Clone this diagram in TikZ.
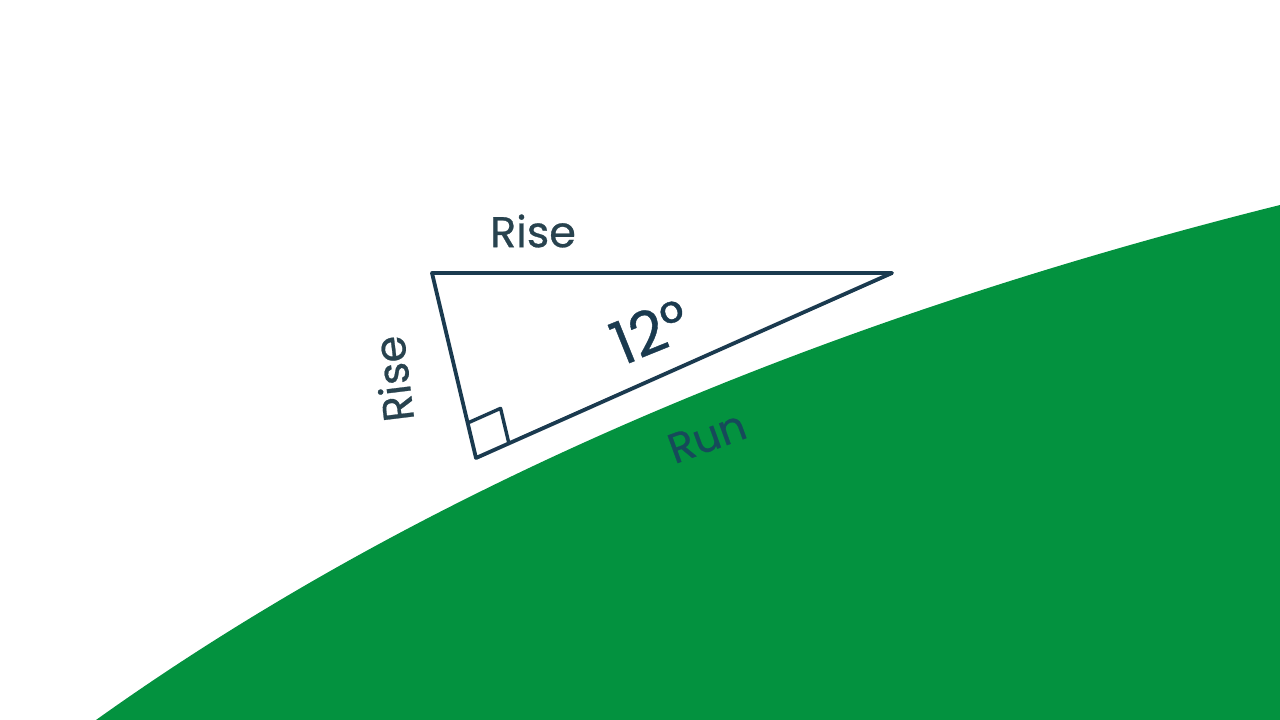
\documentclass[tikz,border=0pt]{standalone}
\usepackage{fontspec}
\setmainfont{Poppins}[FakeBold=0.6]
\usetikzlibrary{calc}
\definecolor{hill}{RGB}{3,146,63}
\definecolor{ink}{RGB}{26,58,79}
\definecolor{txt}{RGB}{40,67,79}
\definecolor{runc}{RGB}{22,74,90}
\tikzset{
  side/.style={draw=ink, line width=3.8pt, line join=round, line cap=round},
  lbl/.style={text=txt, font=\fontsize{43}{43}\selectfont, inner sep=0pt},
}
\begin{document}
\begin{tikzpicture}[x=1pt,y=-1pt]
\useasboundingbox (0,0) rectangle (1280,720);
\fill[white] (0,0) rectangle (1280,720);
% hill
\fill[hill] (96,720) .. controls (404,500) and (800,325) .. (1280,205) -- (1280,720) -- cycle;
% triangle
\coordinate (A) at (432,273);
\coordinate (B) at (892,273);
\coordinate (C) at (476,458);
\fill[white] (A) -- (B) -- (C) -- cycle;
\draw[side] (A) -- (B) -- (C) -- cycle;
% right angle marker
\coordinate (m1) at ($(C)!36pt!(A)$);
\coordinate (m3) at ($(C)!36pt!(B)$);
\coordinate (m2) at ($(m1)+(m3)-(C)$);
\draw[side, line width=3.4pt] (m1) -- (m2) -- (m3);
% labels
\node[lbl] (rtop) at (533,231) {Rise};
\node[lbl, rotate=97] (rleft) at (393,379) {Rise};
\node[text=ink, font=\fontsize{60}{60}\selectfont, inner sep=0pt, rotate=22] (ang) at (650,331) {12°};
\node[text=runc, font=\fontsize{42}{42}\selectfont, inner sep=0pt, rotate=20] (run) at (707,437) {Run};
\end{tikzpicture}
\end{document}
